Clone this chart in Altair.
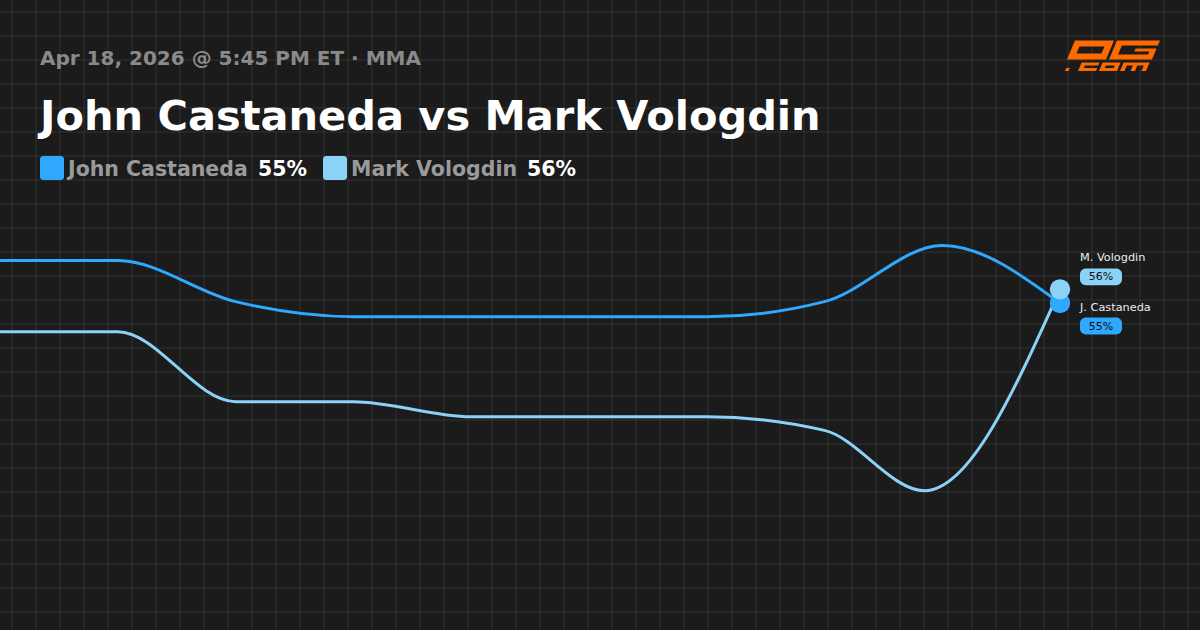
import altair as alt
import pandas as pd

# ---------------- data ----------------
fighters = ["John Castaneda", "Mark Vologdin"]
short_names = ["J. Castaneda", "M. Vologdin"]
colors = ["#2fa8ff", "#8bd2f7"]

t_cast = [0, 1, 2, 3, 4, 5, 6, 7, 8, 9]
p_cast = [58.1, 58.1, 55.1, 54.0, 54.0, 54.0, 54.0, 55.1, 59.2, 55.0]
t_volo = [0, 1, 2, 3, 4, 5, 6, 7, 7.85, 9]
p_volo = [52.9, 52.9, 47.8, 47.8, 46.7, 46.7, 46.7, 45.7, 41.3, 56.0]

final_pct = [55, 56]

subtitle_text = "Apr 18, 2026 @ 5:45 PM ET \u00b7 MMA"
title_text = "John Castaneda vs Mark Vologdin"

BG = "#1b1b1b"
GRID = "#333333"
FONT = "DejaVu Sans"
ORANGE = "#ff6a00"

rows = []
for t, p in zip(t_cast, p_cast):
    rows.append({"t": t, "pct": p, "fighter": fighters[0]})
for t, p in zip(t_volo, p_volo):
    rows.append({"t": t, "pct": p, "fighter": fighters[1]})
df = pd.DataFrame(rows)

end_df = pd.DataFrame({
    "t": [t_cast[-1], t_volo[-1]],
    "pct": [p_cast[-1], p_volo[-1]],
    "fighter": fighters,
    "short": short_names,
    "label": [f"{v}%" for v in final_pct],
})

X_DOMAIN = [0, 10.1887]
Y_DOMAIN = [31.13, 77.12]
xs = alt.Scale(domain=X_DOMAIN, nice=False, zero=False)
ys = alt.Scale(domain=Y_DOMAIN, nice=False, zero=False)
cs = alt.Scale(domain=fighters, range=colors)

X = alt.X("t:Q", scale=xs, axis=None)
Y = alt.Y("pct:Q", scale=ys, axis=None)

# ---------------- grid ----------------
grid_x = pd.DataFrame({"g": list(range(12, 1200, 24))})
grid_y = pd.DataFrame({"g": list(range(12, 630, 24))})
vgrid = alt.Chart(grid_x).mark_rule(color=GRID, strokeWidth=1).encode(
    x=alt.X("g:Q", scale=alt.Scale(domain=[0, 1200], nice=False, zero=False), axis=None),
    y=alt.value(0), y2=alt.value(630))
hgrid = alt.Chart(grid_y).mark_rule(color=GRID, strokeWidth=1).encode(
    y=alt.Y("g:Q", scale=alt.Scale(domain=[0, 630], range=[0, 630], nice=False, zero=False), axis=None),
    x=alt.value(0), x2=alt.value(1200))
grid = alt.layer(vgrid, hgrid)

# ---------------- lines & end markers ----------------
lines = alt.Chart(df).mark_line(interpolate="monotone", strokeWidth=3, strokeCap="round").encode(
    x=X, y=Y, color=alt.Color("fighter:N", scale=cs, legend=None), detail="fighter:N",
    order=alt.Order("t:Q"))

dots = alt.Chart(end_df).mark_circle(size=415, opacity=1).encode(
    x=X, y=Y, color=alt.Color("fighter:N", scale=cs, legend=None),
    order=alt.Order("pct:Q"))

badge_path = ("M -0.72 -0.4 L 0.72 -0.4 A 0.28 0.28 0 0 1 1 -0.12 L 1 0.12 "
              "A 0.28 0.28 0 0 1 0.72 0.4 L -0.72 0.4 A 0.28 0.28 0 0 1 -1 0.12 "
              "L -1 -0.12 A 0.28 0.28 0 0 1 -0.72 -0.4 Z")

def end_label(i, name_dy, badge_dy):
    base = alt.Chart(end_df).transform_filter(alt.datum.fighter == fighters[i])
    name = base.mark_text(align="left", baseline="alphabetic", dx=20, dy=name_dy,
                          font=FONT, fontSize=11.3, color="#ececec").encode(
        x=X, y=Y, text="short:N")
    badge = base.mark_point(shape=badge_path, size=1764, filled=True, opacity=1,
                            xOffset=41, yOffset=badge_dy, color=colors[i], strokeWidth=0).encode(
        x=X, y=Y)
    btxt = base.mark_text(align="center", baseline="middle", dx=41, dy=badge_dy + 0.5,
                          font=FONT, fontSize=11, color="#0e0e0e").encode(
        x=X, y=Y, text="label:N")
    return [name, badge, btxt]

labels = end_label(1, -28, -12.5) + end_label(0, 8, 23)

data_layer = alt.layer(lines, dots, *labels)

# ---------------- header ----------------
one = pd.DataFrame({"a": [0]})

def txt(s, x, y, size, color, weight="bold", align="left"):
    return alt.Chart(one).mark_text(text=s, align=align, baseline="alphabetic",
                                    font=FONT, fontSize=size, fontWeight=weight,
                                    color=color).encode(
        x=alt.value(x), y=alt.value(y))

sub = txt(subtitle_text, 40, 65, 20, "#8a8a8a")
title = txt(title_text, 40, 130, 41.5, "#ffffff")

sq1 = alt.Chart(one).mark_rect(cornerRadius=3, color=colors[0]).encode(
    x=alt.value(40), x2=alt.value(64), y=alt.value(156), y2=alt.value(180))
sq2 = alt.Chart(one).mark_rect(cornerRadius=3, color=colors[1]).encode(
    x=alt.value(323), x2=alt.value(347), y=alt.value(156), y2=alt.value(180))
leg1 = txt(fighters[0], 68, 176, 20.5, "#9a9a9a")
leg1v = txt(f"{final_pct[0]}%", 258, 176, 20.5, "#ffffff")
leg2 = txt(fighters[1], 351, 176, 20.5, "#9a9a9a")
leg2v = txt(f"{final_pct[1]}%", 527, 176, 20.5, "#ffffff")

# ---------------- logo (blocky slanted glyphs drawn as one symbol path) ----------------
LOGO_CX, LOGO_CY, LOGO_SIDE = 1113.0, 56.0, 120.0
SLANT = 0.42

def poly(points, x0, base, reverse=False):
    pts = list(reversed(points)) if reverse else points
    out = []
    s = LOGO_SIDE / 2
    for k, (u, v) in enumerate(pts):
        X_ = x0 + u + v * SLANT
        Y_ = base - v
        out.append(("M" if k == 0 else "L") + f" {(X_ - LOGO_CX) / s:.4f} {(Y_ - LOGO_CY) / s:.4f}")
    return " ".join(out) + " Z"

big_base, small_base = 59.5, 71.0
parts = []
# O
parts.append(poly([(0, 0), (39, 0), (39, 19), (0, 19)], 1067, big_base))
parts.append(poly([(7, 6), (32, 6), (32, 13), (7, 13)], 1067, big_base, reverse=True))
# G
parts.append(poly([(0, 0), (43, 0), (43, 11), (22, 11), (22, 8), (37, 8), (37, 5), (7, 5),
                   (7, 14), (43, 14), (43, 19), (0, 19)], 1109, big_base))
# .
parts.append(poly([(0, 0), (3.5, 0), (3.5, 3), (0, 3)], 1065, small_base))
# C
parts.append(poly([(0, 0), (18, 0), (18, 3), (4.5, 3), (4.5, 5.5), (18, 5.5), (18, 8.5), (0, 8.5)],
                  1078, small_base))
# O
parts.append(poly([(0, 0), (18, 0), (18, 8.5), (0, 8.5)], 1099, small_base))
parts.append(poly([(4.5, 3), (13.5, 3), (13.5, 5.5), (4.5, 5.5)], 1099, small_base, reverse=True))
# M
parts.append(poly([(0, 0), (4.5, 0), (4.5, 5.5), (10.5, 5.5), (10.5, 0), (15, 0), (15, 5.5),
                   (21.5, 5.5), (21.5, 0), (26, 0), (26, 8.5), (0, 8.5)], 1120, small_base))
logo_path = " ".join(parts)

logo = alt.Chart(one).mark_point(shape=logo_path, size=LOGO_SIDE ** 2, filled=True, opacity=1,
                                 color=ORANGE, strokeWidth=0).encode(
    x=alt.value(LOGO_CX), y=alt.value(LOGO_CY))

header = alt.layer(sub, title, sq1, sq2, leg1, leg1v, leg2, leg2v, logo)

chart = alt.layer(grid, data_layer, header).resolve_scale(
    x="independent", y="independent", color="independent"
).properties(
    width=1200, height=630, padding=0, autosize=alt.AutoSizeParams(type="none"),
    background=BG
).configure_view(stroke=None)

chart.save("out.html", embed_options={"renderer": "svg", "actions": False})
